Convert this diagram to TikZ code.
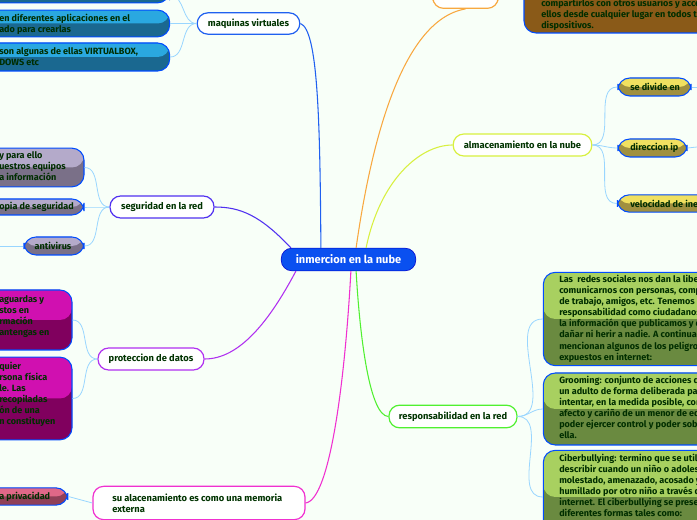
\documentclass[tikz,border=0pt]{standalone}
\usepackage{fontspec}
\setmainfont{Fira Sans}
\begin{document}
\begin{tikzpicture}[x=0.75pt,y=-0.75pt,
 txt/.style={font=\fontsize{6.8}{8.3}\selectfont\bfseries,text=black!70!green!60!black,align=left,inner sep=0pt,anchor=north west},
 mtxt/.style={font=\fontsize{7}{8.5}\selectfont\bfseries,text=black!60!green!50!black},
 topic/.style={draw=#1,line width=0.9pt,fill=white,rounded corners=8pt,inner sep=0pt},
 box/.style 2 args={draw=blue!70!cyan,line width=0.8pt,fill=#2,rounded corners=9pt,inner sep=0pt,
   path picture={\fill[#1] (path picture bounding box.north west) rectangle (path picture bounding box.east);}},
 ce/.style={line width=0.8pt},
 ch/.style={draw=blue!40!cyan!40!white,line width=0.6pt}]
\useasboundingbox (0,0) rectangle (697,520);
\clip (0,0) rectangle (697,520);
\fill[gray!10!green!3!white] (0,0) rectangle (697,520);
\definecolor{bl1}{HTML}{2AA8E0}\definecolor{bl2}{HTML}{1A6890}
\definecolor{gr1}{HTML}{B4AACA}\definecolor{gr2}{HTML}{7A7088}
\definecolor{mg1}{HTML}{D010B0}\definecolor{mg2}{HTML}{80005E}
\definecolor{pk1}{HTML}{E06888}\definecolor{pk2}{HTML}{904058}
\definecolor{ye1}{HTML}{F0E060}\definecolor{ye2}{HTML}{A09040}
\definecolor{gn1}{HTML}{A8D060}\definecolor{gn2}{HTML}{6A8A40}
\definecolor{br}{HTML}{8A5A18}
\definecolor{cMV}{HTML}{2060F0}\definecolor{cSR}{HTML}{5030F0}
\definecolor{cPD}{HTML}{B030F0}\definecolor{cSU}{HTML}{F030D0}
\definecolor{cOR}{HTML}{F8A840}\definecolor{cAL}{HTML}{D8F040}
\definecolor{cRR}{HTML}{50F030}
% center
\node[draw=blue!80!black,fill={rgb,255:red,10;green,80;blue,240},rounded corners=8pt,minimum width=101pt,minimum height=17pt,
 text=white,font=\fontsize{8.3}{9}\selectfont\bfseries] (c) at (348.5,259.5) {inmercion en la nube};
% topics
\node[topic=cMV,minimum width=77pt,minimum height=16pt,mtxt] (mv) at (248.5,23.5) {maquinas virtuales};
\node[topic=cSR,minimum width=78pt,minimum height=16.5pt,mtxt] (sr) at (162,207) {seguridad en la red};
\node[topic=cPD,minimum width=79.5pt,minimum height=16.5pt,mtxt] (pd) at (151,359) {proteccion de datos};
\node[topic=cSU,minimum width=159pt,minimum height=25pt,mtxt] (su) at (199,503) {};
\node[mtxt,align=left,anchor=west,inner sep=0pt] (sut) at (112,503) {su alacenamiento es como una memoria\\externa};
\node[topic=cOR,minimum width=49pt,minimum height=14pt] (or) at (465.5,-1) {};
\node[topic=cAL,minimum width=104pt,minimum height=16.5pt,mtxt] (al) at (522.5,145) {almacenamiento en la nube};
\node[topic=cRR,minimum width=96pt,minimum height=17pt,mtxt] (rr) at (453,416.5) {responsabilidad en la red};
% blue boxes
\node[box={bl1}{bl2},minimum width=142pt,minimum height=11pt] (b1) at (75,-4.5) {};
\node[box={bl1}{bl2},minimum width=142pt,minimum height=20pt] (b2) at (75,23.5) {};
\node[box={bl1}{bl2},minimum width=142pt,minimum height=21pt] (b3) at (75,57) {};
\node[txt] (b2t) at (-1,13.5) {en diferentes aplicaciones en el\\ado para crearlas};
\node[txt] (b3t) at (-1,47) {son algunas de ellas VIRTUALBOX,\\DOWS etc};
% gray
\node[box={gr1}{gr2},minimum width=78pt,minimum height=29pt] (g1) at (32,167.5) {};
\node[box={gr1}{gr2},minimum width=78pt,minimum height=12pt] (g2) at (32,207) {};
\node[box={gr1}{gr2},minimum width=45pt,minimum height=13.5pt] (g3) at (54,246) {};
\node[txt] (g1t) at (-1,151) {y para ello\\uestros equipos\\a información};
\node[txt] (g2t) at (-1,202) {opia de seguridad};
\node[txt,anchor=center] (g3t) at (53,246) {antivirus};
\coordinate (g3l) at (0,246);
% magenta
\node[box={mg1}{mg2},minimum width=69pt,minimum height=45pt] (m1) at (26,320) {};
\node[box={mg1}{mg2},minimum width=69pt,minimum height=62pt] (m2) at (26,398.5) {};
\node[txt] (m1t) at (-1,295) {aguardas y\\stos en\\rmación\\antengas en};
\node[txt] (m2t) at (-1,362) {quier\\rsona física\\le. Las\\recopiladas\\ón de una\\n constituyen};
% pink
\node[box={pk1}{pk2},minimum width=65pt,minimum height=13pt] (p1) at (24.5,496.5) {};
\node[txt] (p1t) at (-1,492) {a privacidad};
% brown
\node[draw=blue!70!cyan,line width=0.8pt,fill=br,rounded corners=9pt,minimum width=150pt,minimum height=48pt] (brn) at (624,1) {};
\node[txt] (brt) at (541,-1) {compartirlos con otros usuarios y acced\\ellos desde cualquier lugar en todos tus\\dispositivos.};
% yellow
\node[box={ye1}{ye2},minimum width=55pt,minimum height=13.5pt] (y1) at (654.5,87) {};
\node[txt,anchor=west] (y1t) at (630,87) {se divide en};
\node[box={ye1}{ye2},minimum width=52pt,minimum height=13.5pt] (y2) at (652.5,148) {};
\node[txt,anchor=west] (y2t) at (630,148) {direccion ip};
\node[box={ye1}{ye2},minimum width=70pt,minimum height=13pt] (y3) at (664,203.5) {};
\node[txt,anchor=west] (y3t) at (630,203.5) {velocidad de inet};
\coordinate (y1r) at (697,87); \coordinate (y2r) at (697,147);
% green
\node[box={gn1}{gn2},minimum width=130pt,minimum height=70pt] (n1) at (630,319) {};
\node[txt] (n1t) at (559,275) {Las\ \ redes sociales nos dan la libert\\comunicarnos con personas, comp\\de trabajo, amigos, etc. Tenemos la\\responsabilidad como ciudadanos d\\la información que publicamos y de\\dañar ni herir a nadie. A continuaci\\mencionan algunos de los peligros\\expuestos en internet:};
\node[box={gn1}{gn2},minimum width=130pt,minimum height=54pt] (n2) at (630,409) {};
\node[txt] (n2t) at (559,376) {Grooming: conjunto de acciones qu\\un adulto de forma deliberada para\\intentar, en la medida posible, cons\\afecto y cariño de un menor de eda\\poder ejercer control y poder sobre\\ella.};
\node[box={gn1}{gn2},minimum width=130pt,minimum height=70pt] (n3) at (630,497) {};
\node[txt] (n3t) at (559,454) {Ciberbullying: termino que se utiliz\\describir cuando un niño o adolesc\\molestado, amenazado, acosado y\\humillado por otro niño a través de\\internet. El ciberbullying se presen\\diferentes formas tales como:};
% main edges
\draw[ce,cMV] (c.north west) ++(40,0) .. controls (320,120) and (318,30) .. (mv.east);
\draw[ce,cSR] (c.north west) ++(10,0) .. controls (260,215) and (240,207) .. (sr.east);
\draw[ce,cPD] (c.south west) ++(15,0) .. controls (270,320) and (240,359) .. (pd.east);
\draw[ce,cSU] (c.south west) ++(70,0) .. controls (345,380) and (330,500) .. (su.east);
\draw[ce,cOR] (c.north east) ++(-60,0) .. controls (370,150) and (400,20) .. (or.south);
\draw[ce,cAL] (c.north east) ++(-50,0) .. controls (380,180) and (420,145) .. (al.west);
\draw[ce,cRR] (c.south east) ++(-60,0) .. controls (360,340) and (370,416) .. (rr.west);
% child edges
\foreach \k in {b1,b2,b3} \draw[ch] (mv.west) to[out=180,in=0] (\k.east);
\foreach \k in {g1,g2,g3} \draw[ch] (sr.west) to[out=180,in=0] (\k.east);
\draw[ch] (g3.west) -- (g3l);
\foreach \k in {m1,m2} \draw[ch] (pd.west) to[out=180,in=0] (\k.east);
\draw[ch] (su.west) -- (p1.east);
\foreach \k in {y1,y2,y3} \draw[ch] (al.east) to[out=0,in=180] (\k.west);
\draw[ch] (y1.east) -- (y1r); \draw[ch] (y2.east) -- (y2r);
\foreach \k in {n1,n2,n3} \draw[ch] (rr.east) to[out=0,in=180] (\k.west);
\end{tikzpicture}
\end{document}
